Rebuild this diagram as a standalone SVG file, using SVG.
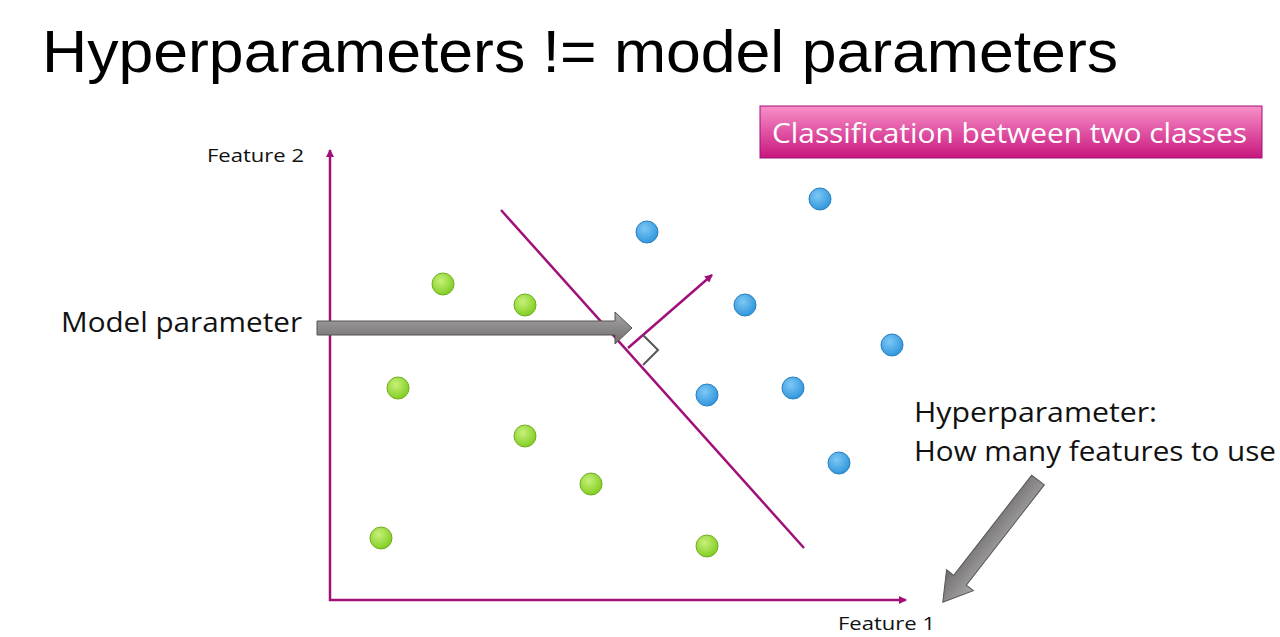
<svg xmlns="http://www.w3.org/2000/svg" width="1280" height="637" viewBox="0 0 1280 637">
<defs>
<marker id="ah" markerWidth="8" markerHeight="8" refX="7" refY="4" orient="auto" markerUnits="userSpaceOnUse"><path d="M0,0 L8,4 L0,8 z" fill="#a0107a"/></marker>
<radialGradient id="g" cx="0.4" cy="0.35" r="0.7"><stop offset="0" stop-color="#c8f07a"/><stop offset="1" stop-color="#7ccc1c"/></radialGradient>
<radialGradient id="b" cx="0.4" cy="0.35" r="0.7"><stop offset="0" stop-color="#7ec8f5"/><stop offset="1" stop-color="#2b93db"/></radialGradient>
<linearGradient id="pk" x1="0" y1="0" x2="0" y2="1"><stop offset="0" stop-color="#f890c8"/><stop offset="1" stop-color="#c8167e"/></linearGradient>
<linearGradient id="gr" x1="0" y1="0" x2="0" y2="1"><stop offset="0" stop-color="#a8a6a6"/><stop offset="1" stop-color="#6e6c6c"/></linearGradient>
</defs>
<style>
.ax{stroke:#a0107a;stroke-width:2.5;fill:none}
.t{font-family:"Open Sans","Liberation Sans",sans-serif;fill:#111}
.gd{fill:url(#g);stroke:#6fae22;stroke-width:1}
.bd{fill:url(#b);stroke:#2a7fc0;stroke-width:1}
.ga{fill:url(#gr);stroke:#555;stroke-width:1}
</style>
<rect width="1280" height="637" fill="#fff"/>
<text x="42" y="72" font-family="Liberation Sans,Arial,sans-serif" font-size="60" fill="#000" textLength="1076" lengthAdjust="spacingAndGlyphs">Hyperparameters != model parameters</text>
<g id="title-box"><rect x="760" y="106" width="502" height="52" fill="url(#pk)" stroke="#a0107a" stroke-width="1"/>
<text x="772" y="143" font-family="Open Sans,Liberation Sans,sans-serif" font-size="28" fill="#fff" textLength="475" lengthAdjust="spacingAndGlyphs">Classification between two classes</text></g>
<g id="axes">
<line class="ax" x1="330" y1="601" x2="330" y2="150" marker-end="url(#ah)"/>
<line class="ax" x1="329" y1="600" x2="906" y2="600" marker-end="url(#ah)"/>
<text class="t" x="207" y="162" font-size="19" textLength="97" lengthAdjust="spacingAndGlyphs">Feature 2</text>
<text class="t" x="838" y="630" font-size="19" textLength="97" lengthAdjust="spacingAndGlyphs">Feature 1</text>
</g>
<g id="boundary">
<line class="ax" x1="501" y1="210" x2="804" y2="548"/>
<line class="ax" x1="628" y1="348" x2="712" y2="275" marker-end="url(#ah)"/>
<path d="M643,335 L658,350 L643,365" fill="none" stroke="#555" stroke-width="2"/>
</g>
<g id="green">
<circle class="gd" cx="443" cy="284" r="11"/><circle class="gd" cx="525" cy="305" r="11"/><circle class="gd" cx="398" cy="388" r="11"/><circle class="gd" cx="525" cy="436" r="11"/><circle class="gd" cx="591" cy="484" r="11"/><circle class="gd" cx="381" cy="538" r="11"/><circle class="gd" cx="707" cy="546" r="11"/>
</g>
<g id="blue">
<circle class="bd" cx="820" cy="199" r="11"/><circle class="bd" cx="647" cy="232" r="11"/><circle class="bd" cx="745" cy="305" r="11"/><circle class="bd" cx="892" cy="345" r="11"/><circle class="bd" cx="707" cy="395" r="11"/><circle class="bd" cx="793" cy="388" r="11"/><circle class="bd" cx="839" cy="463" r="11"/>
</g>
<g id="connectors">
<polygon class="ga" points="317,321 615,321 615,312 632,328 615,344 615,335 317,335"/>
<polygon class="ga" transform="translate(1038,480) rotate(127.9)" points="0,-8 127,-8 127,-17 155,0 127,17 127,8 0,8"/>
</g>
<g id="labels">
<text class="t" x="61" y="332" font-size="27" textLength="241" lengthAdjust="spacingAndGlyphs">Model parameter</text>
<text class="t" x="914" y="422" font-size="27" textLength="243" lengthAdjust="spacingAndGlyphs">Hyperparameter:</text>
<text class="t" x="914" y="461" font-size="27" textLength="362" lengthAdjust="spacingAndGlyphs">How many features to use</text>
</g>
</svg>
